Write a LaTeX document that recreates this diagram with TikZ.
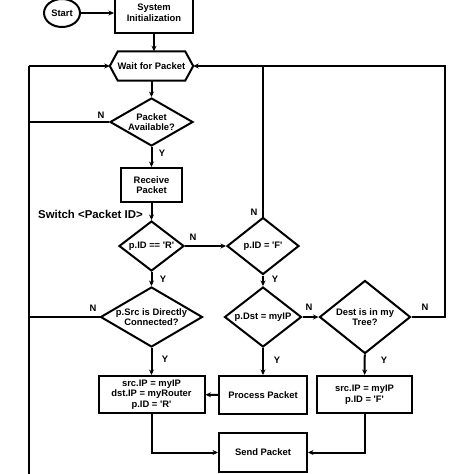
\documentclass[tikz,border=0pt]{standalone}
\usepackage{fontspec}
\setmainfont{Liberation Sans}
\usetikzlibrary{shapes.geometric,arrows.meta,calc}
\begin{document}
\begin{tikzpicture}[x=1pt,y=-1pt,
  base/.style={font=\bfseries\fontsize{9.4}{10.5}\selectfont, align=center},
  box/.style={base, draw, line width=2pt, rectangle, inner sep=0pt},
  dia/.style={draw, diamond, line width=2pt, inner sep=0pt},
  txt/.style={base},
  lbl/.style={font=\bfseries\fontsize{9.4}{10}\selectfont, inner sep=0pt},
  arr/.style={line width=2pt, -{Stealth[length=5.5pt,width=5pt]}},
  ln/.style={line width=2pt},
  bus/.style={line width=2.8pt}]
\useasboundingbox (0,0) rectangle (474,474);
% nodes
\node[draw, ellipse, line width=2pt, minimum width=36pt, minimum height=28pt, inner sep=0pt, base] (start) at (62,13) {Start};
\node[box, minimum width=78pt, minimum height=40pt] (init) at (154,13) {System\\Initialization};
\node[base, minimum width=83pt, minimum height=29pt, inner sep=0pt] (wait) at (151.5,66) {Wait for Packet};
\draw[ln] (wait.west) -- ($(wait.north west)+(8,0)$) -- ($(wait.north east)+(-8,0)$) -- (wait.east) -- ($(wait.south east)+(-8,0)$) -- ($(wait.south west)+(8,0)$) -- cycle;
\node[dia, minimum width=83pt, minimum height=48pt, label={[txt]center:Packet\\Available?}] (avail) at (151.5,122) {};
\node[box, minimum width=61pt, minimum height=34pt] (recv) at (151.5,185) {Receive\\Packet};
\node[font=\bfseries\fontsize{11.4}{12}\selectfont, anchor=west, inner sep=0pt] (sw) at (38,214) {Switch <Packet ID>};
\node[dia, minimum width=65pt, minimum height=50pt, label={[txt]center:p.ID == \textquotesingle R\textquotesingle}] (pidR) at (151.5,246) {};
\node[dia, minimum width=72pt, minimum height=57pt, label={[txt]center:p.ID = \textquotesingle F\textquotesingle}] (pidF) at (263,246) {};
\node[dia, minimum width=102pt, minimum height=60pt, label={[txt]center:p.Src is Directly\\Connected?}] (src) at (151.5,317) {};
\node[dia, minimum width=77pt, minimum height=60pt, label={[txt]center:p.Dst = myIP}] (dst) at (263,317) {};
\node[dia, minimum width=91pt, minimum height=73pt, label={[txt]center:Dest is in my\\Tree?}] (tree) at (365,317) {};
\node[box, minimum width=106pt, minimum height=37pt] (rbox) at (151.5,394.5) {src.IP = myIP\\dst.IP = myRouter\\p.ID = \textquotesingle R\textquotesingle};
\node[box, minimum width=88pt, minimum height=38pt] (proc) at (263,395) {Process Packet};
\node[box, minimum width=95pt, minimum height=37pt] (fbox) at (364.5,394.5) {src.IP = myIP\\p.ID = \textquotesingle F\textquotesingle};
\node[box, minimum width=88pt, minimum height=39pt] (send) at (263,452.5) {Send Packet};
% bus coordinates
\coordinate (lt) at (29,66);
\coordinate (lb) at (29,480);
\coordinate (la) at (29,122);
\coordinate (ls) at (29,317);
\coordinate (rt) at (445,66);
% connectors
\draw[arr] (start) -- (init);
\draw[arr] (init.south) -- (init.south |- wait.north);
\draw[arr] (wait) -- (avail);
\draw[bus] (lb) -- (lt);
\draw[arr] (lt) -- (wait.west);
\draw[ln] (avail.west) -- (la);
\draw[arr] (avail) -- (recv);
\draw[arr] (recv) -- (pidR);
\draw[arr] (pidR) -- (pidF);
\draw[ln] (pidF.north) -- (pidF.north |- wait.east);
\draw[arr] (tree.east) -| (rt) -- (wait.east);
\draw[arr] (pidR) -- (src);
\draw[arr] (pidF) -- (dst);
\draw[arr] (dst) -- (tree);
\draw[ln] (src.west) -- (ls);
\draw[arr] (src) -- (rbox);
\draw[arr] (dst) -- (proc);
\draw[arr] (tree) -- (fbox);
\draw[arr] (proc) -- (rbox);
\draw[arr] (rbox.south) |- (send.west);
\draw[arr] (fbox.south) |- (send.east);
% labels
\node[lbl] (n1) at (101,115) {N};
\node[lbl] (y1) at (162,153) {Y};
\node[lbl] (n2) at (193,237) {N};
\node[lbl] (y2) at (163,279) {Y};
\node[lbl] (n3) at (254,212) {N};
\node[lbl] (y3) at (275,279) {Y};
\node[lbl] (n4) at (93,308) {N};
\node[lbl] (n5) at (309,307) {N};
\node[lbl] (n6) at (425,307) {N};
\node[lbl] (y4) at (165,359) {Y};
\node[lbl] (y5) at (277,360) {Y};
\node[lbl] (y6) at (384,360) {Y};
\end{tikzpicture}
\end{document}
